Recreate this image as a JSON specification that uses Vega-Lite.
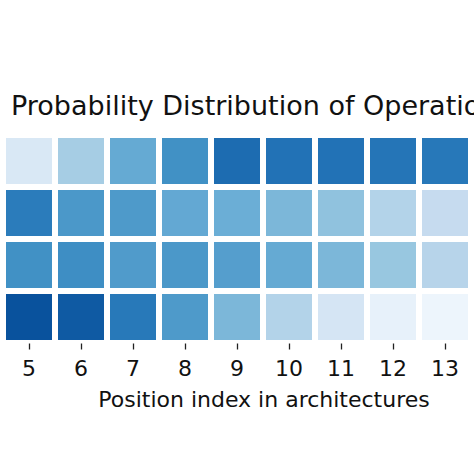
{
  "$schema": "https://vega.github.io/schema/vega-lite/v6.json",
  "autosize": {"type": "none"},
  "padding": {"left": 3, "top": 135, "right": 3, "bottom": 131},
  "width": 468,
  "height": 208,
  "background": "white",
  "title": {
    "text": "Probability Distribution of Operations",
    "anchor": "start",
    "dx": 11,
    "offset": 11,
    "font": "DejaVu Sans",
    "fontSize": 27,
    "fontWeight": "normal",
    "color": "#111111"
  },
  "data": {
    "values": [
      {"row": 0, "pos": 5, "p": 0.15}, {"row": 0, "pos": 6, "p": 0.35}, {"row": 0, "pos": 7, "p": 0.52}, {"row": 0, "pos": 8, "p": 0.63}, {"row": 0, "pos": 9, "p": 0.77}, {"row": 0, "pos": 10, "p": 0.745}, {"row": 0, "pos": 11, "p": 0.745}, {"row": 0, "pos": 12, "p": 0.735}, {"row": 0, "pos": 13, "p": 0.725},
      {"row": 1, "pos": 5, "p": 0.71}, {"row": 1, "pos": 6, "p": 0.6}, {"row": 1, "pos": 7, "p": 0.59}, {"row": 1, "pos": 8, "p": 0.525}, {"row": 1, "pos": 9, "p": 0.5}, {"row": 1, "pos": 10, "p": 0.46}, {"row": 1, "pos": 11, "p": 0.41}, {"row": 1, "pos": 12, "p": 0.31}, {"row": 1, "pos": 13, "p": 0.25},
      {"row": 2, "pos": 5, "p": 0.63}, {"row": 2, "pos": 6, "p": 0.64}, {"row": 2, "pos": 7, "p": 0.585}, {"row": 2, "pos": 8, "p": 0.6}, {"row": 2, "pos": 9, "p": 0.57}, {"row": 2, "pos": 10, "p": 0.52}, {"row": 2, "pos": 11, "p": 0.46}, {"row": 2, "pos": 12, "p": 0.39}, {"row": 2, "pos": 13, "p": 0.3},
      {"row": 3, "pos": 5, "p": 0.87}, {"row": 3, "pos": 6, "p": 0.84}, {"row": 3, "pos": 7, "p": 0.72}, {"row": 3, "pos": 8, "p": 0.59}, {"row": 3, "pos": 9, "p": 0.46}, {"row": 3, "pos": 10, "p": 0.31}, {"row": 3, "pos": 11, "p": 0.17}, {"row": 3, "pos": 12, "p": 0.08}, {"row": 3, "pos": 13, "p": 0.05}
    ]
  },
  "mark": {"type": "rect", "stroke": "white", "strokeWidth": 6},
  "encoding": {
    "x": {
      "field": "pos",
      "type": "ordinal",
      "title": "Position index in architectures",
      "axis": {
        "labelAngle": 0,
        "domain": false,
        "ticks": true,
        "tickSize": 6,
        "tickWidth": 1.3,
        "tickColor": "#222222",
        "labelFont": "DejaVu Sans",
        "labelFontSize": 22,
        "labelColor": "#111111",
        "labelPadding": 9,
        "titleFont": "DejaVu Sans",
        "titleFontSize": 22,
        "titleFontWeight": "normal",
        "titleColor": "#111111",
        "titlePadding": 10,
        "titleX": 260.5
      }
    },
    "y": {"field": "row", "type": "ordinal", "axis": null},
    "color": {
      "field": "p",
      "type": "quantitative",
      "legend": null,
      "scale": {
        "domain": [0, 0.125, 0.25, 0.375, 0.5, 0.625, 0.75, 0.875, 1],
        "range": ["#f7fbff", "#deebf7", "#c6dbef", "#9ecae1", "#6baed6", "#4292c6", "#2171b5", "#08519c", "#08306b"]
      }
    }
  },
  "config": {"view": {"stroke": null}}
}
